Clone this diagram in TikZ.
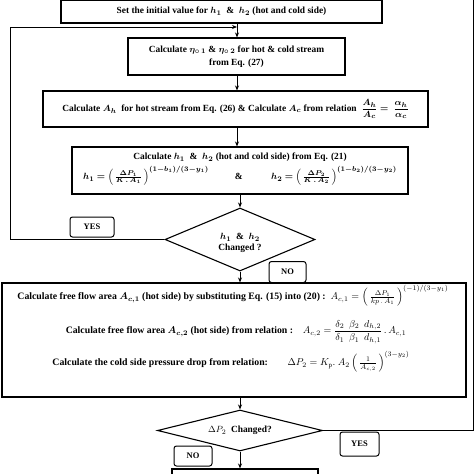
\documentclass[tikz,border=0pt]{standalone}
\usepackage{amsmath}
\usepackage{bm}
\usepackage{fontspec}
\setmainfont{Liberation Serif}
\usetikzlibrary{shapes.geometric,arrows.meta,calc}
\begin{document}
\begin{tikzpicture}[x=1pt,y=-1pt,
  box/.style={draw,line width=1.1pt,inner sep=0pt,align=center,font=\fontsize{9.4}{11}\selectfont\bfseries},
  txt/.style={inner sep=0pt,align=center,font=\fontsize{9.4}{11}\selectfont\bfseries},
  bigtxt/.style={inner sep=0pt,align=center,font=\fontsize{9.8}{11}\selectfont\bfseries},
  dia/.style={draw,diamond,line width=1.1pt,inner sep=0pt,align=center,aspect=3,font=\fontsize{9.4}{11}\selectfont\bfseries},
  tag/.style={draw,rounded corners=2.5pt,line width=1pt,inner sep=0pt,font=\fontsize{8.5}{10}\selectfont\bfseries},
  arr/.style={line width=1pt,-{Stealth[length=5pt,width=4pt]}},
  ln/.style={line width=1pt}]
\useasboundingbox (0,0) rectangle (474,474);
\clip (0,0) rectangle (474,474);

\node[box,minimum width=321,minimum height=23] (init) at (221.5,11.5)
  {Set the initial value for $\bm{h_1}$ \ \& \ $\bm{h_2}$ (hot and cold side)};
\node[box,minimum width=217,minimum height=37] (eta) at (236.5,56.5)
  {Calculate $\bm{\eta_{\circ\,1}}$ \& $\bm{\eta_{\circ\,2}}$ for hot \& cold stream\\[2pt]from Eq. (27)};
\node[box,minimum width=385,minimum height=36] (area) at (235.5,109)
  {Calculate $\bm{A_h}$ \ for hot stream from Eq. (26) \& Calculate $\bm{A_c}$ from relation \ $\bm{\dfrac{A_h}{A_c} = \ \dfrac{\alpha_h}{\alpha_c}}$};
\node[box,minimum width=336,minimum height=47] (hcalc) at (240,170.5) {};
\node[txt] (hl1) at (240,157.5)
  {Calculate $\bm{h_1}$ \ \& \ $\bm{h_2}$ (hot and cold side) from Eq. (21)};
\node[txt] (hl2) at (240,176)
  {$\bm{h_1=\left(\,\frac{\Delta P_1}{K\,.\,A_1}\,\right)^{(1-b_1)/(3-y_1)}}$\hspace{26pt}\&\hspace{26pt}
   $\bm{h_2=\left(\,\frac{\Delta P_2}{K\,.\,A_2}\,\right)^{(1-b_2)/(3-y_2)}}$};
\node[dia,minimum width=150,minimum height=63] (d1) at (240,239.5) {};
\node[txt] (d1t) at (240,243) {$\bm{h_1}$ \ \& \ $\bm{h_2}$\\Changed ?};
\node[box,minimum width=464,minimum height=114] (big) at (234,340) {};
\node[bigtxt] (l1) at (233,296)
  {Calculate free flow area $\bm{A_{c,1}}$ (hot side) by substituting Eq. (15) into (20) :\ \ $A_{c,1}=\left(\,\frac{\Delta P_1}{kp\,.\,A_1}\,\right)^{(-1)/(3-y_1)}$};
\node[bigtxt] (l2) at (236,332)
  {Calculate free flow area $\bm{A_{c,2}}$ (hot side) from relation :\quad $A_{c,2}=\dfrac{\delta_2\ \ \beta_2\ \ d_{h,2}}{\delta_1\ \ \beta_1\ \ d_{h,1}}\,.\,A_{c,1}$};
\node[bigtxt] (l3) at (231,362)
  {Calculate the cold side pressure drop from relation:\qquad $\Delta P_2=K_{\mathrm{p}}.\ A_2\left(\,\frac{1}{A_{c,2}}\,\right)^{(3-y_2)}$};
\node[dia,aspect=4,minimum width=165,minimum height=41] (d2) at (240,430.5)
  {$\Delta P_2$\ \ Changed?};
\node[box,minimum width=146,minimum height=22] (final) at (245,480) {};

\node[tag,minimum width=44,minimum height=20] (yes1) at (92,227) {YES};
\node[tag,minimum width=37,minimum height=21] (no1) at (287.5,272) {NO};
\node[tag,minimum width=39,minimum height=24] (yes2) at (359.5,444) {YES};
\node[tag,minimum width=38,minimum height=20] (no2) at (193,456) {NO};

\coordinate (cA) at (237,0);
\coordinate (cB) at (240,0);
\coordinate (j1) at (237,27);
\coordinate (lft) at (10,0);
\coordinate (rgt) at (473,0);
\coordinate (rtop) at (473,-10);

\draw[arr] (init.south -| cA) -- (eta.north -| cA);
\draw[arr] (eta.south -| cA) -- (area.north -| cA);
\draw[arr] (area.south -| cA) -- (hcalc.north -| cA);
\draw[arr] (hcalc.south -| cB) -- (d1.north);
\draw[arr] (d1.south) -- (big.north -| cB);
\draw[arr] (big.south -| cB) -- (d2.north);
\draw[arr] (d2.south) -- (final.north -| cB);
\draw[arr] (d1.west) -- (d1.west -| lft) -- (j1 -| lft) -- (j1);
\draw[ln] (d2.east) -- (d2.east -| rgt) -- (rtop);
\end{tikzpicture}
\end{document}
